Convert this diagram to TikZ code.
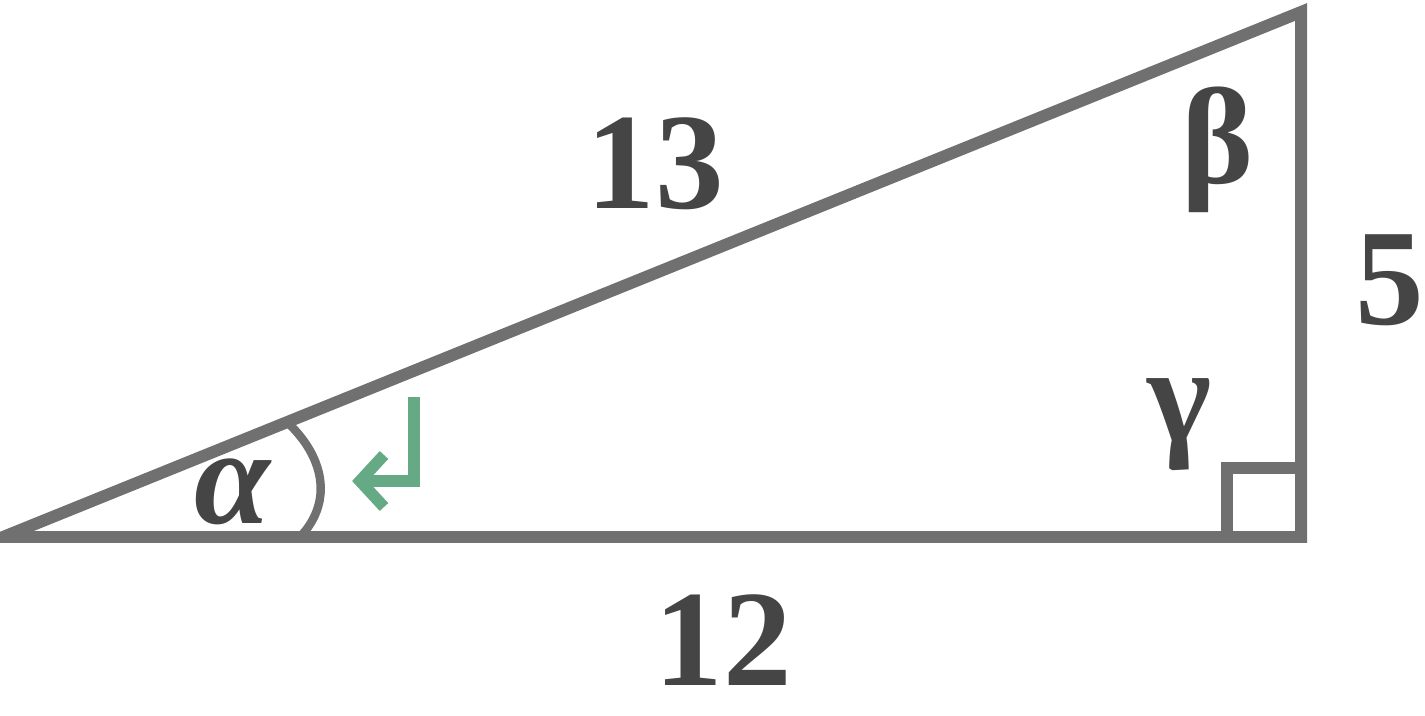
\documentclass[tikz,border=0pt]{standalone}
\usepackage{fontspec}
\setmainfont{Liberation Serif}
\definecolor{edgegray}{HTML}{707070}
\definecolor{textgray}{HTML}{454545}
\definecolor{arrowgreen}{HTML}{66AA85}
\tikzset{
  side/.style={edgegray,line width=3.4pt,line join=miter},
  anglearc/.style={edgegray,line width=2.4pt},
  turnarrow/.style={arrowgreen,line width=3.3pt,line join=miter},
  lbl/.style={textgray,inner sep=0pt,font=\fontsize{39}{39}\selectfont\bfseries}
}
\begin{document}
\begin{tikzpicture}[x=0.01cm,y=-0.01cm]
\useasboundingbox (0,0) rectangle (1425,715);

\coordinate (A) at (3,537);
\coordinate (B) at (1301,537);
\coordinate (C) at (1301,12);

\draw[side] (A) -- (B) -- (C) -- cycle;
\draw[side] (1227,537) -- (1227,468) -- (1301,468);

%angle alpha
\draw[anglearc] (288,423) .. controls (322,455) and (335,500) .. (300,537);

%green arrow
\draw[turnarrow] (414,397) -- (414,481) -- (362,481);
\draw[turnarrow] (384,455) -- (360,481) -- (384,507);

\node[lbl] (hyp) at (655,164) {13};
\node[lbl] (base) at (723,640) {12};
\node[lbl] (leg) at (1390,280) {5};
\node[lbl] (beta) at (1218,150) {β};
\node[lbl] (gamma) at (1180,425) {γ};
\node[lbl] (alpha) at (233,492) {\textit{α}};
\end{tikzpicture}
\end{document}
